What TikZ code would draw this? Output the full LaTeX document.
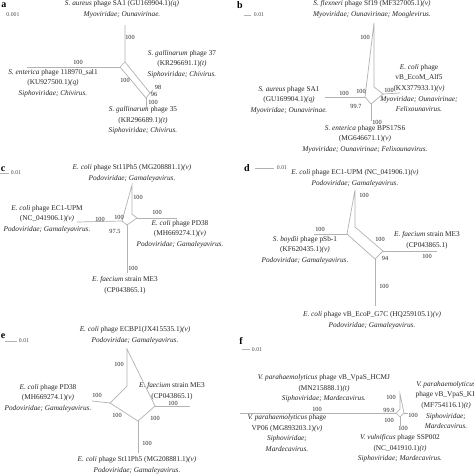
\documentclass[tikz,border=0pt]{standalone}
\usepackage{fontspec}
\setmainfont{Liberation Serif}
\begin{document}
\begin{tikzpicture}[x=1pt,y=-1pt,
  br/.style={draw=black!30,line width=0.7pt},
  leaf/.style={align=center,inner sep=0pt,text=black!85,font=\fontsize{7.3}{10.6}\selectfont},
  bs/.style={inner sep=0pt,text=black!85,font=\fontsize{6.3}{7}\selectfont},
  pan/.style={inner sep=0pt,font=\fontsize{10}{10}\selectfont\bfseries},
  scl/.style={inner sep=0pt,text=black!70,font=\fontsize{5.8}{6}\selectfont}]
\useasboundingbox[fill=white] (0,0) rectangle (474,474);

% ---------------- panel a ----------------
\node[pan] (pa) at (4,5) {a};
\node[scl] (sa) at (13,15) {0.001};
\node[leaf] (a1) at (122,9.5) {\textit{S. aureus} phage SA1 (GU169904.1)\textit{(q)}\\\textit{Myoviridae; Ounavirinae.}};
\node[leaf] (a2) at (182,64) {\textit{S. gallinarum} phage 37\\(KR296691.1)\textit{(t)}\\\textit{Siphoviridae; Chivirus.}};
\node[leaf] (a3) at (53,83) {\textit{S. enterica} phage 118970\_sal1\\(KU927500.1)\textit{(q)}\\\textit{Siphoviridae; Chivirus.}};
\node[leaf] (a4) at (143,120.5) {\textit{S. gallinarum} phage 35\\(KR296689.1)\textit{(t)}\\\textit{Siphoviridae; Chivirus.}};
\coordinate (at) at (125,25);
\coordinate (ap1) at (125,62);
\coordinate (ap2) at (120,67);
\coordinate (ap3) at (150,93);
\coordinate (ap4) at (146,98);
\coordinate (al) at (27,67);
\coordinate (ar) at (153,90);
\coordinate (ab) at (146,108);
\draw[br] (at) -- (ap1) -- (ap2) -- (ap4) -- (ap3) -- (ap1);
\draw[br] (al) -- (ap2);
\draw[br] (ap3) -- (ar);
\draw[br] (ap4) -- (ab);
\node[bs] at (130,37) {100};
\node[bs] at (78,62) {100};
\node[bs] at (125,80) {100};
\node[bs] at (158,87) {98};
\node[bs] at (154,94) {96};
\node[bs] at (153,102) {100};

% ---------------- panel b ----------------
\node[pan] (pb) at (240,5) {b};
\coordinate (sb1) at (244,15);
\coordinate (sb2) at (251,15);
\draw[br] (sb1) -- (sb2);
\node[scl] (sb) at (259,15) {0.01};
\node[leaf] (b1) at (372,9.5) {\textit{S. flexneri} phage Sf19 (MF327005.1)\textit{(v)}\\\textit{Myoviridae; Ounavirinae; Mooglevirus.}};
\node[leaf] (b2) at (419,88) {\textit{E. coli} phage\\vB\_EcoM\_Alf5\\(KX377933.1)\textit{(v)}\\\textit{Myoviridae; Ounavirinae;}\\\textit{Felixounavirus.}};
\node[leaf] (b3) at (289,100) {\textit{S. aureus} phage SA1\\(GU169904.1)\textit{(q)}\\\textit{Myoviridae; Ounavirinae.}};
\node[leaf] (b4) at (365,139) {\textit{S. enterica} phage BPS17S6\\(MG646671.1)\textit{(v)}\\\textit{Myoviridae; Ounavirinae; Felixounavirus.}};
\coordinate (bt) at (374,23);
\coordinate (bd1) at (374,87);
\coordinate (bd2) at (383,94);
\coordinate (bd3) at (371,104);
\coordinate (bd4) at (365,97);
\coordinate (bl) at (325,97);
\coordinate (brr) at (400,93);
\coordinate (bb) at (371,121);
\draw[br] (bt) -- (bd1) -- (bd2) -- (bd3) -- (bd4) -- cycle;
\draw[br] (bl) -- (bd4);
\draw[br] (bd2) -- (brr);
\draw[br] (bd3) -- (bb);
\node[bs] at (365,37) {100};
\node[bs] at (344,93) {100};
\node[bs] at (361,91) {100};
\node[bs] at (389,90) {100};
\node[bs] at (356,106) {99.7};
\node[bs] at (377,122) {100};

% ---------------- panel c ----------------
\node[pan] (pc) at (3,169) {c};
\coordinate (sc1) at (0,173);
\coordinate (sc2) at (9,173);
\draw[br] (sc1) -- (sc2);
\node[scl] (sc) at (16,173) {0.01};
\node[leaf] (c1) at (132,173.5) {\textit{E. coli} phage St11Ph5 (MG208881.1)\textit{(v)}\\\textit{Podoviridae; Gamaleyavirus.}};
\node[leaf] (c2) at (47,219) {\textit{E. coli} phage EC1-UPM\\(NC\_041906.1)\textit{(v)}\\\textit{Podoviridae; Gamaleyavirus.}};
\node[leaf] (c3) at (180,234) {\textit{E. coli} phage PD38\\(MH669274.1)\textit{(v)}\\\textit{Podoviridae; Gamaleyavirus.}};
\node[leaf] (c4) at (125,285) {\textit{E. faecium} strain ME3\\(CP043865.1)};
\coordinate (ct) at (132,185);
\coordinate (cd1) at (132,214);
\coordinate (cd2) at (137,218);
\coordinate (cd3) at (127,225);
\coordinate (cd4) at (122,221);
\coordinate (cl) at (77,222);
\coordinate (cr) at (177,218);
\coordinate (cb) at (127,273);
\draw[br] (ct) -- (cd1) -- (cd2) -- (cd3) -- (cd4) -- cycle;
\draw[br] (cl) -- (cd4);
\draw[br] (cd2) -- (cr);
\draw[br] (cd3) -- (cb);
\node[bs] at (138,197) {100};
\node[bs] at (100,219) {100};
\node[bs] at (119,217) {100};
\node[bs] at (157,212) {100};
\node[bs] at (115,231) {97.5};
\node[bs] at (133,268) {100};

% ---------------- panel d ----------------
\node[pan] (pd) at (247,168) {d};
\coordinate (sd1) at (255,168);
\coordinate (sd2) at (274,168);
\draw[br] (sd1) -- (sd2);
\node[scl] (sd) at (282,168) {0.01};
\node[leaf] (d1) at (355,178) {\textit{E. coli} phage EC1-UPM (NC\_041906.1)\textit{(v)}\\\textit{Podoviridae; Gamaleyavirus.}};
\node[leaf] (d2) at (305,250) {\textit{S. boydii} phage pSb-1\\(KF620435.1)\textit{(v)}\\\textit{Podoviridae; Gamaleyavirus.}};
\node[leaf] (d3) at (427,240) {\textit{E. faecium} strain ME3\\(CP043865.1)};
\node[leaf] (d4) at (372,320.5) {\textit{E. coli} phage vB\_EcoP\_G7C (HQ259105.1)\textit{(v)}\\\textit{Podoviridae; Gamaleyavirus.}};
\coordinate (dt) at (355,190);
\coordinate (dp1) at (355,227);
\coordinate (dp2) at (347,234);
\coordinate (dp3) at (375,259);
\coordinate (dp4) at (383,251);
\coordinate (dl) at (314,234);
\coordinate (dr) at (437,251);
\coordinate (db) at (375,306);
\draw[br] (dt) -- (dp1) -- (dp4) -- (dp3) -- (dp2) -- cycle;
\draw[br] (dl) -- (dp2);
\draw[br] (dp4) -- (dr);
\draw[br] (dp3) -- (db);
\node[bs] at (364,195) {100};
\node[bs] at (320,229) {100};
\node[bs] at (380,239) {100};
\node[bs] at (385,258) {94};
\node[bs] at (427,256) {100};
\node[bs] at (384,286) {100};

% ---------------- panel e ----------------
\node[pan] (pe) at (3,336) {e};
\coordinate (se1) at (5,341);
\coordinate (se2) at (17,341);
\draw[br] (se1) -- (se2);
\node[scl] (se) at (24,341) {0.01};
\node[leaf] (e1) at (135,335.5) {\textit{E. coli} phage ECBP1(JX415535.1)\textit{(v)}\\\textit{Podoviridae; Gamaleyavirus.}};
\node[leaf] (e2) at (48,398) {\textit{E. coli} phage PD38\\(MH669274.1)\textit{(v)}\\\textit{Podoviridae; Gamaleyavirus.}};
\node[leaf] (e3) at (172,391) {\textit{E. faecium} strain ME3\\(CP043865.1)};
\node[leaf] (e4) at (137,465) {\textit{E. coli} phage St11Ph5 (MG208881.1)\textit{(v)}\\\textit{Podoviridae; Gamaleyavirus.}};
\coordinate (et) at (127,349);
\coordinate (ed1) at (127,386);
\coordinate (ed2) at (110,403);
\coordinate (ed3) at (138,421);
\coordinate (ed4) at (155,406);
\coordinate (el) at (92,401);
\coordinate (er) at (190,406);
\coordinate (eb) at (138,453);
\draw[br] (et) -- (ed1) -- (ed2) -- (ed3) -- (ed4) -- cycle;
\draw[br] (el) -- (ed2);
\draw[br] (ed4) -- (er);
\draw[br] (ed3) -- (eb);
\node[bs] at (119,364) {100};
\node[bs] at (97,395) {100};
\node[bs] at (117,415) {100};
\node[bs] at (155,418) {100};
\node[bs] at (173,403) {100};
\node[bs] at (147,443) {100};

% ---------------- panel f ----------------
\node[pan] (pf) at (241,341) {f};
\coordinate (sf1) at (242,349);
\coordinate (sf2) at (250,349);
\draw[br] (sf1) -- (sf2);
\node[scl] (sf) at (257,350) {0.01};
\node[leaf] (f1) at (324,388.5) {\textit{V. parahaemolyticus} phage vB\_VpaS\_HCMJ\\(MN215888.1)\textit{(t)}\\\textit{Siphoviridae; Mardecavirus.}};
\node[leaf] (f2) at (446,405) {\textit{V. parahaemolyticus}\\phage vB\_VpaS\_KF\\(MF754116.1)\textit{(t)}\\\textit{Siphoviridae;}\\\textit{Mardecavirus.}};
\node[leaf] (f3) at (287,433) {\textit{V. parahaemolyticus} phage\\VP06 (MG893203.1)\textit{(v)}\\\textit{Siphoviridae;}\\\textit{Mardecavirus.}};
\node[leaf] (f4) at (400,448.5) {\textit{V. vulnificus} phage SSP002\\(NC\_041910.1)\textit{(t)}\\\textit{Siphoviridae; Mardecavirus.}};
\coordinate (ft) at (400,394);
\coordinate (fd1) at (400,409);
\coordinate (fd2) at (396,413);
\coordinate (fd3) at (400,417);
\coordinate (fd4) at (404,413);
\coordinate (fl) at (240,413);
\coordinate (fr) at (408,413);
\coordinate (fb) at (400,426);
\draw[br] (ft) -- (fd1) -- (fd2) -- (fd3) -- (fd4) -- cycle;
\draw[br] (fl) -- (fd2);
\draw[br] (fd4) -- (fr);
\draw[br] (fd3) -- (fb);
\node[bs] at (391,397) {100};
\node[bs] at (317,409) {100};
\node[bs] at (389,410) {99.9};
\node[bs] at (389,420) {100};
\node[bs] at (413,415) {100};
\node[bs] at (403,428) {100};
\end{tikzpicture}
\end{document}
